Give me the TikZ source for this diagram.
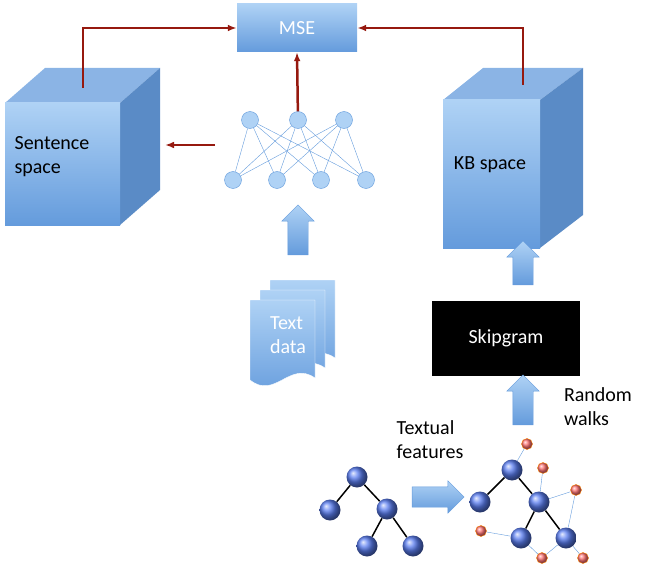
\documentclass[tikz,border=0pt]{standalone}
\usepackage{fontspec}
\setmainfont{Carlito}
\usetikzlibrary{shapes.arrows,arrows.meta}
\definecolor{boxblue}{RGB}{100,155,220}
\definecolor{lightblue}{RGB}{175,210,245}
\definecolor{darkred}{RGB}{150,25,15}
\definecolor{nodeblue}{RGB}{90,125,240}
\tikzstyle{line} = [draw=darkred, line width=2.5pt, -{Latex[length=9pt]}]
\tikzstyle{neuron} = [circle, draw=boxblue, fill=lightblue, minimum size=17pt, inner sep=0pt]
\tikzstyle{big} = [circle, ball color=nodeblue, minimum size=21pt, inner sep=0pt]
\tikzstyle{small} = [circle, draw=orange, ball color=red!55, minimum size=11pt, inner sep=0pt]
\tikzstyle{fat} = [single arrow, draw=boxblue, top color=lightblue, bottom color=boxblue, minimum height=50pt, inner sep=10pt, single arrow head extend=6pt]
\begin{document}
\begin{tikzpicture}[x=1pt, y=-1pt, font=\fontsize{20}{24}\selectfont]
    \useasboundingbox (0,0) rectangle (648,575);
    % cubes
    \fill[boxblue!75] (5,103) -- (45,68) -- (160,68) -- (120,103) -- cycle;
    \fill[boxblue!90!black] (120,103) -- (160,68) -- (160,190) -- (120,225) -- cycle;
    \shade[top color=lightblue, bottom color=boxblue] (5,103) rectangle (120,225);
    \node (sent) at (52,157) [align=left] {Sentence\\space};
    \coordinate (senttop) at (83,88);
    \fill[boxblue!75] (443,100) -- (483,68) -- (583,68) -- (540,100) -- cycle;
    \fill[boxblue!90!black] (540,100) -- (583,68) -- (583,215) -- (540,248) -- cycle;
    \shade[top color=lightblue, bottom color=boxblue] (443,100) rectangle (540,248);
    \node (kb) at (490,165) {KB space};
    \coordinate (kbtop) at (523,85);
    % MSE
    \node (mse) at (297,28) [minimum width=120pt, minimum height=48pt, top color=lightblue, bottom color=boxblue, text=white] {MSE};
    % network
    \foreach \i/\x in {1/250,2/298,3/344} \node[neuron] (t\i) at (\x,120) {};
    \foreach \j/\x in {1/233,2/277,3/321,4/366} \node[neuron] (b\j) at (\x,180) {};
    \foreach \i in {1,2,3} \foreach \j in {1,2,3,4} \draw[boxblue, thin] (t\i) -- (b\j);
    \coordinate (netleft) at (215,145);
    \coordinate (sentright) at (165,145);
    \path[line] (senttop) |- (mse.west);
    \path[line] (kbtop) |- (mse.east);
    \path[line] (t2) -- (mse.south);
    \path[line] (netleft) -- (sentright);
    % text data
    \foreach \d in {20,10,0}
        \shade[top color=lightblue, bottom color=boxblue, draw=white] (250+\d,300-\d) -- (315+\d,300-\d) -- (315+\d,378-\d) .. controls (290+\d,360-\d) and (275+\d,400-\d) .. (250+\d,380-\d) -- cycle;
    \node (text) at (288,335) [text=white, align=left] {Text\\data};
    \node[fat, rotate=90] (up1) at (298,235) {};
    % skipgram
    \node (skip) at (506,338) [fill=black, text=white, minimum width=148pt, minimum height=75pt] {Skipgram};
    \node[fat, rotate=90, minimum height=44pt] (up2) at (523,268) {};
    \node[fat, rotate=90] (up3) at (523,405) {};
    \node (walks) at (598,407) [align=left] {Random\\walks};
    \node (feat) at (430,440) [align=left] {Textual\\features};
    % trees
    \node[big] (r) at (357,477) {};
    \node[big] (l) at (330,510) {};
    \node[big] (m) at (387,509) {};
    \node[big] (c) at (367,546) {};
    \node[big] (d) at (413,546) {};
    \draw[line width=1.5pt] (r) -- (l) (r) -- (m) (m) -- (c) (m) -- (d);
    \node[fat, minimum height=52pt] (right) at (433,497) {};
    \node[big] (R) at (512,470) {};
    \node[big] (L) at (480,502) {};
    \node[big] (M) at (539,502) {};
    \node[big] (C) at (521,538) {};
    \node[big] (D) at (566,538) {};
    \foreach \n/\p in {s1/{527,444},s2/{543,468},s3/{576,490},s4/{481,531},s5/{542,558},s6/{583,558}}
        \node[small] (\n) at (\p) {};
    \draw[line width=1.5pt] (R) -- (L) (R) -- (M) (M) -- (C) (M) -- (D);
    \draw[boxblue] (R) -- (s1) (M) -- (s2) (M) -- (s3) (s3) -- (D) (s4) -- (C) (C) -- (s5) (s5) -- (D) (D) -- (s6);
\end{tikzpicture}
\end{document}
